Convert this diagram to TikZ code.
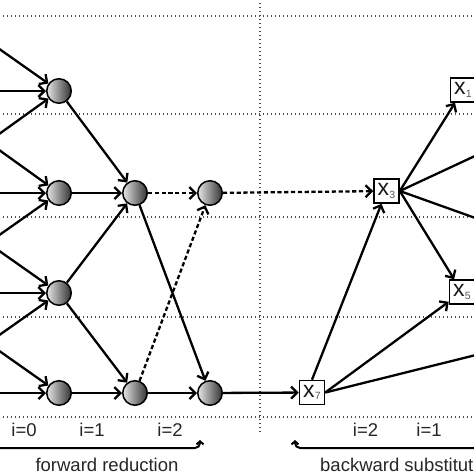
\documentclass[tikz,border=0pt]{standalone}
\usepackage{fontspec}
\setmainfont{Liberation Sans}
\usetikzlibrary{arrows.meta}
\newcommand\xvar[1]{x\kern0.2pt\raisebox{-2.5pt}{\fontsize{10.5}{10.5}\selectfont\color{black!65}#1}}
\begin{document}
\begin{tikzpicture}[x=1pt,y=-1pt,
  ball/.style={circle,draw=black,line width=1.5pt,minimum size=24.5pt,inner sep=0pt,
    left color=black!10,right color=black!80},
  var/.style={draw=black,line width=1.6pt,fill=white,minimum width=25pt,minimum height=24pt,
    inner sep=0pt,text=black!90,font=\fontsize{23}{23}\selectfont},
  edge/.style={line width=2.3pt,-{Straight Barb[length=6pt,width=12pt]}},
  dashedge/.style={edge,dash pattern=on 4.2pt off 2.6pt},
  gridline/.style={line width=1.2pt,black!70,dash pattern=on 1.2pt off 2.8pt},
  lab/.style={text=black!85,font=\fontsize{18.5}{20}\selectfont,inner sep=0pt},
  bracket/.style={line width=2pt,rounded corners=5pt,-{Straight Barb[length=3pt,width=7pt]}}
]
\useasboundingbox (0,0) rectangle (474,474);
\clip (0,0) rectangle (474,474);

% grid
\foreach \yy in {16,114,217,317,417} \draw[gridline] (-5,\yy) -- (480,\yy);
\draw[gridline] (260,-5) -- (260,434);

% hidden level-0 nodes
\coordinate (a1) at (-12,41);
\coordinate (a2) at (-12,91);
\coordinate (a3) at (-12,142);
\coordinate (a4) at (-12,193);
\coordinate (a5) at (-12,243);
\coordinate (a6) at (-12,293);
\coordinate (a7) at (-12,343);
\coordinate (a8) at (-12,393);

% circles
\node[ball] (b1) at (59,91) {};
\node[ball] (b2) at (59,193) {};
\node[ball] (b3) at (59,293) {};
\node[ball] (b4) at (59,393) {};
\node[ball] (c1) at (135,193) {};
\node[ball] (c2) at (135,393) {};
\node[ball] (d1) at (210,193) {};
\node[ball] (d2) at (210,393) {};

% variable boxes
\node[var] (x3) at (386.5,191) {\xvar{3}};
\node[var] (x7) at (312,392.5) {\xvar{7}};
\node[var] (x1) at (463,90) {\xvar{1}};
\node[var] (x5) at (462,292) {\xvar{5}};
\coordinate (x2) at (520,135);
\coordinate (x4) at (520,234);
\coordinate (x6) at (520,344);

% forward edges
\foreach \s in {a1,a2,a3} \draw[edge] (\s) -- (b1);
\foreach \s in {a3,a4,a5} \draw[edge] (\s) -- (b2);
\foreach \s in {a5,a6,a7} \draw[edge] (\s) -- (b3);
\foreach \s in {a7,a8} \draw[edge] (\s) -- (b4);
\foreach \s in {b1,b2,b3} \draw[edge] (\s) -- (c1);
\foreach \s in {b3,b4} \draw[edge] (\s) -- (c2);
\draw[dashedge] (c1) -- (d1);
\draw[edge] (c1) -- (d2);
\draw[dashedge] (c2) -- (d1);
\draw[edge] (c2) -- (d2);
\draw[dashedge] (d1) -- (x3);
\draw[edge] (d2) -- (x7);

% backward edges
\draw[edge] (x7.north) -- (x3);
\draw[edge] (x7.east) -- (x5);
\draw[edge] (x7.east) -- (x6);
\draw[edge] (x3.east) -- (x1);
\draw[edge] (x3.east) -- (x2);
\draw[edge] (x3.east) -- (x4);
\draw[edge] (x3.east) -- (x5);

% labels
\node[lab,anchor=base] (i0) at (24,436.5) {i=0};
\node[lab,anchor=base] (i1) at (92,436.5) {i=1};
\node[lab,anchor=base] (i2) at (170,436.5) {i=2};
\node[lab,anchor=base] (j2) at (365.5,436.5) {i=2};
\node[lab,anchor=base] (j1) at (429,436.5) {i=1};

% brackets
\coordinate (fl) at (-10,448);
\coordinate (fr) at (200,440);
\draw[bracket] (fl) -| (fr);
\coordinate (br) at (490,448);
\coordinate (bl) at (295,440);
\draw[bracket] (br) -| (bl);

\node[lab,anchor=base] (fwd) at (107,471) {forward reduction};
\node[lab,anchor=base west] (bwd) at (320,471) {backward substitution};
\end{tikzpicture}
\end{document}
